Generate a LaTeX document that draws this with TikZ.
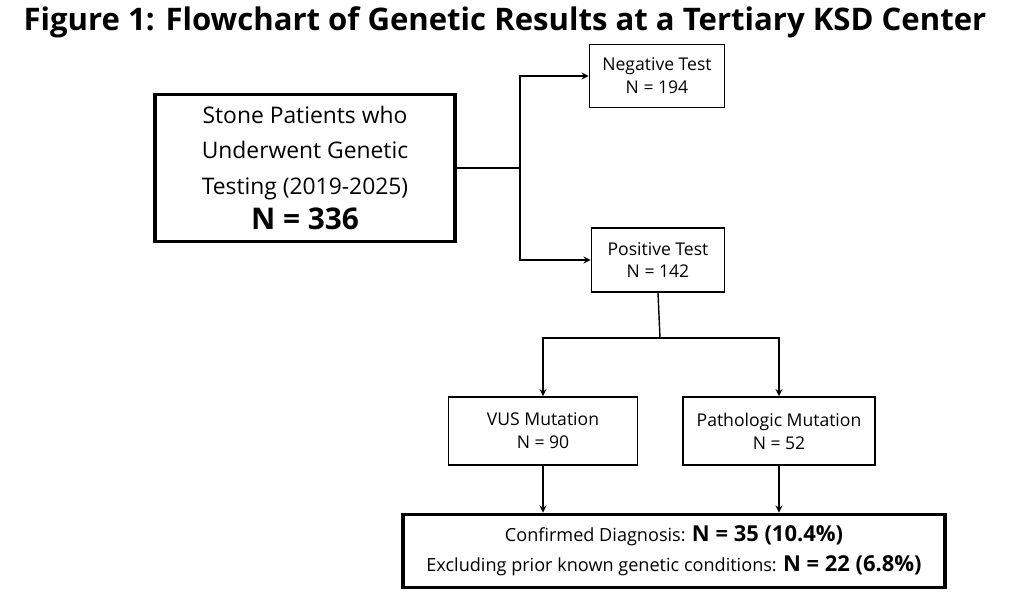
\documentclass[tikz,border=0pt]{standalone}
\usepackage{fontspec}
\setmainfont{Open Sans}
\usepackage{tikz}
\usetikzlibrary{arrows,positioning,calc}

\tikzset{
  box/.style={draw, line width=1pt, align=center, inner sep=0pt},
  bigbox/.style={draw, line width=2.2pt, align=center, inner sep=0pt},
  conn/.style={line width=0.8pt},
  arr/.style={conn, ->, >=stealth}
}

\begin{document}
\begin{tikzpicture}[x=0.02cm, y=-0.02cm]
  \useasboundingbox (0,0) rectangle (1028,609);

  \node[font=\bfseries\fontsize{17.7}{20}\selectfont] (title) at (505,22)
    {Figure 1: Flowchart of Genetic Results at a Tertiary KSD Center};

  \node[bigbox, minimum width=6cm, minimum height=2.94cm,
        font=\fontsize{13}{20}\selectfont] (stone) at (305,168)
    {Stone Patients who\\Underwent Genetic\\Testing (2019-2025)\\
     {\bfseries\fontsize{17}{20}\selectfont N = 336}};
  \node[box, minimum width=2.7cm, minimum height=1.26cm,
        font=\fontsize{10}{13}\selectfont] (neg) at (657,76)
    {Negative Test\\N = 194};
  \node[box, minimum width=2.66cm, minimum height=1.28cm,
        font=\fontsize{10}{13}\selectfont] (pos) at (658,260)
    {Positive Test\\N = 142};
  \node[box, minimum width=3.78cm, minimum height=1.36cm,
        font=\fontsize{10}{13}\selectfont] (vus) at (543,431)
    {VUS Mutation\\N = 90};
  \node[box, minimum width=3.84cm, minimum height=1.36cm,
        font=\fontsize{10}{13}\selectfont] (path) at (779,431)
    {Pathologic Mutation\\N = 52};
  \node[bigbox, minimum width=10.84cm, minimum height=1.46cm,
        font=\fontsize{10.3}{17}\selectfont] (diag) at (674,551)
    {Confirmed Diagnosis: {\bfseries\fontsize{12.5}{17}\selectfont N = 35 (10.4\%)}\\
     Excluding prior known genetic conditions: {\bfseries\fontsize{12.5}{17}\selectfont N = 22 (6.8\%)}};

  \coordinate (split) at (520,168);
  \coordinate (fork) at (660,338);

  \draw[conn] (stone.east) -- (split);
  \draw[arr] (split) |- (neg.west);
  \draw[arr] (split) |- (pos.west);
  \draw[conn] (pos.south) -- (fork);
  \draw[arr] (fork) -| (vus.north);
  \draw[arr] (fork) -| (path.north);
  \draw[arr] (vus.south) -- (vus.south |- diag.north);
  \draw[arr] (path.south) -- (path.south |- diag.north);
\end{tikzpicture}
\end{document}
